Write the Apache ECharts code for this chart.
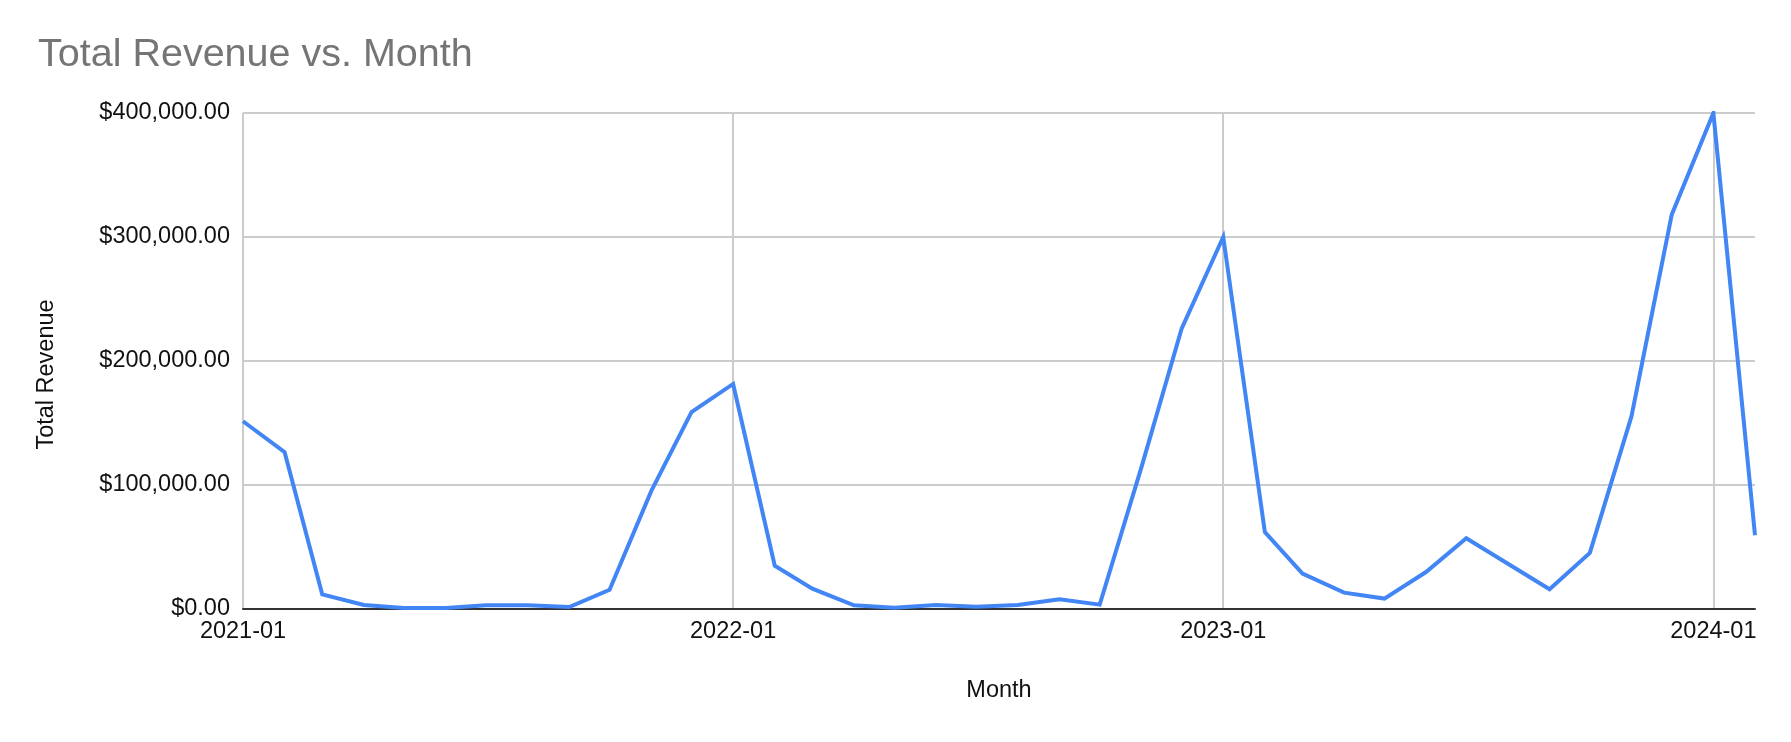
<!DOCTYPE html>
<html>
<head>
<meta charset="utf-8">
<script src="https://cdn.jsdelivr.net/npm/echarts@6/dist/echarts.min.js"></script>
<style>
html,body{margin:0;padding:0;background:#fff;}
#chart{width:1791px;height:742px;}
</style>
</head>
<body>
<div id="chart"></div>
<script>
const chartTitle = 'Total Revenue vs. Month';
const xAxisTitle = 'Month';
const yAxisTitle = 'Total Revenue';

const months = [
  '2021-01','2021-02','2021-03','2021-04','2021-05','2021-06','2021-07','2021-08','2021-09','2021-10','2021-11','2021-12',
  '2022-01','2022-02','2022-03','2022-04','2022-05','2022-06','2022-07','2022-08','2022-09','2022-10','2022-11','2022-12',
  '2023-01','2023-02','2023-03','2023-04','2023-05','2023-06','2023-07','2023-08','2023-09','2023-10','2023-11','2023-12',
  '2024-01','2024-02'
];
const revenue = [
  151400, 126400, 11800, 3200, 800, 800, 3000, 3000, 1600, 15500, 95000, 158700,
  181500, 34900, 16400, 3000, 1100, 3200, 1900, 3200, 7800, 3500, 114000, 226000,
  300000, 62000, 28500, 13200, 8400, 29800, 57000, 36500, 15900, 45200, 155300, 318000,
  400000, 59500
];
const xTickLabels = ['2021-01','2022-01','2023-01','2024-01'];
const yMin = 0, yMax = 400000, yStep = 100000;

const DAY = 86400000;
function toTime(m) { return Date.UTC(+m.slice(0, 4), +m.slice(5, 7) - 1, 1); }
function fmtMonth(v) {
  const d = new Date(v);
  return d.getUTCFullYear() + '-' + String(d.getUTCMonth() + 1).padStart(2, '0');
}
const seriesData = months.map((m, i) => [toTime(m), revenue[i]]);
const xMin = toTime(months[0]);
const xMax = toTime(months[months.length - 1]);

const FONT = '"Liberation Sans", Arial, sans-serif';
const chart = echarts.init(document.getElementById('chart'), null, {renderer: 'canvas'});
chart.setOption({
  animation: false,
  backgroundColor: '#ffffff',
  textStyle: {fontFamily: FONT},
  title: {
    text: chartTitle,
    left: 38, top: 35, padding: 0,
    textStyle: {fontFamily: FONT, fontSize: 39.5, fontWeight: 'normal', color: '#757575'}
  },
  grid: {left: 243, right: 36, top: 113, bottom: 133, containLabel: false},
  xAxis: {
    type: 'value',
    min: xMin, max: xMax,
    interval: 365 * DAY,
    name: xAxisTitle,
    nameLocation: 'middle',
    nameGap: 70,
    nameTextStyle: {fontFamily: FONT, fontSize: 23.5, color: '#111111'},
    axisLine: {show: true, lineStyle: {color: '#333333', width: 2}},
    axisTick: {show: false},
    axisLabel: {
      margin: 11, fontFamily: FONT, fontSize: 23.5, color: '#111111',
      showMaxLabel: true,
      formatter: function (v) { const s = fmtMonth(v); return xTickLabels.indexOf(s) >= 0 ? s : ''; }
    },
    splitLine: {show: true, showMaxLine: false, lineStyle: {color: '#cccccc', width: 2}}
  },
  yAxis: {
    type: 'value',
    min: yMin, max: yMax, interval: yStep,
    name: yAxisTitle,
    nameLocation: 'middle',
    nameGap: 184,
    nameTextStyle: {fontFamily: FONT, fontSize: 23.5, color: '#111111', padding: [0, 27, 0, 0]},
    axisLine: {show: false},
    axisTick: {show: false},
    axisLabel: {
      margin: 13, fontFamily: FONT, fontSize: 23.5, color: '#111111',
      formatter: function (v) {
        return '$' + v.toLocaleString('en-US', {minimumFractionDigits: 2, maximumFractionDigits: 2});
      }
    },
    splitLine: {show: true, lineStyle: {color: '#cccccc', width: 2}}
  },
  series: [{
    type: 'line',
    name: yAxisTitle,
    data: seriesData,
    showSymbol: false,
    symbol: 'none',
    clip: true,
    lineStyle: {color: '#4285F4', width: 4, join: 'miter'},
    z: 5
  }]
});
</script>
</body>
</html>
